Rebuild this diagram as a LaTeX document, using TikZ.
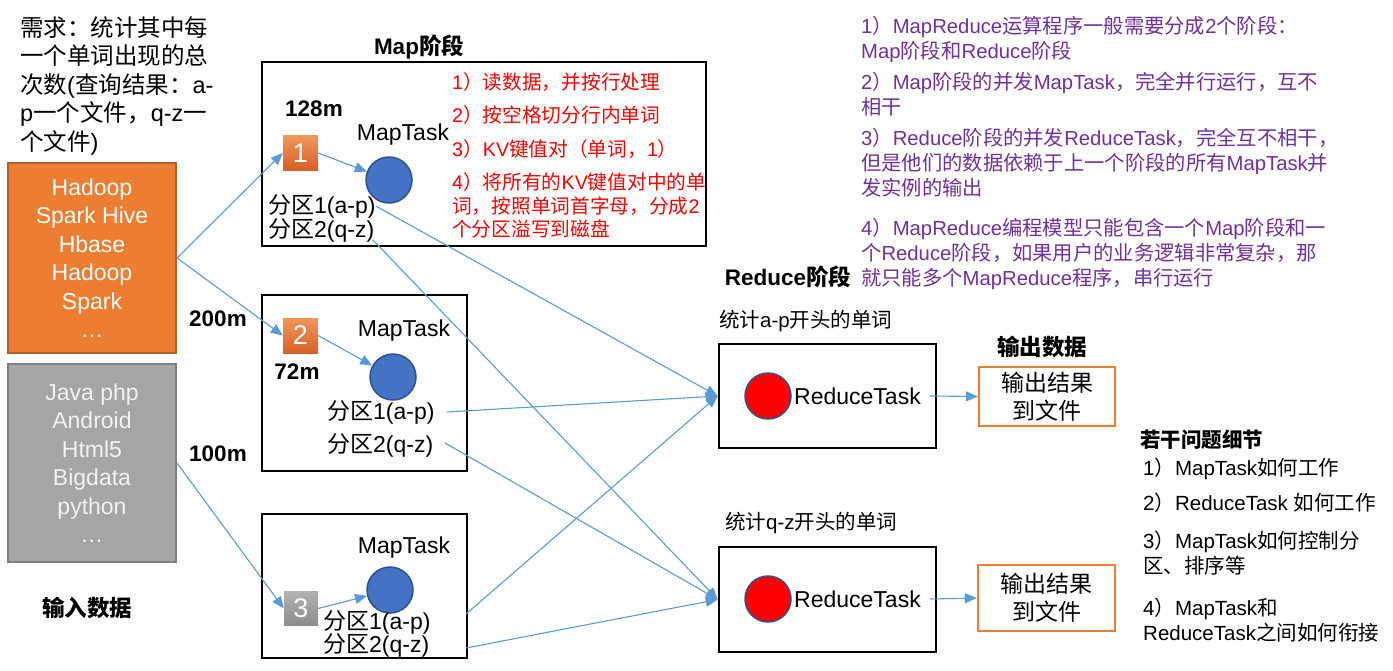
\documentclass[tikz,border=0pt]{standalone}
\usepackage{fontspec}
\setmainfont{Liberation Sans}
\newfontfamily\cjkfont{Noto Sans CJK SC}
\usetikzlibrary{arrows.meta}
\XeTeXinterchartokenstate=1
\makeatletter
\def\setcjkrange#1#2{\count@=#1\relax\loop\XeTeXcharclass\count@=1 \ifnum\count@<#2\advance\count@\@ne\repeat}
\makeatother
\setcjkrange{"3000}{"303F}
\setcjkrange{"4E00}{"9FFF}
\setcjkrange{"FF00}{"FFEF}
\XeTeXinterchartoks 0 1 = {\cjkfont}
\XeTeXinterchartoks 4095 1 = {\cjkfont}
\XeTeXinterchartoks 1 0 = {\rmfamily}
\XeTeXinterchartoks 1 4095 = {\rmfamily}
\definecolor{orangef}{HTML}{ED7D31}
\definecolor{oranged}{HTML}{B0602A}
\definecolor{grayf}{HTML}{A5A5A5}
\definecolor{grayd}{HTML}{7F7F7F}
\definecolor{bluef}{HTML}{4472C4}
\definecolor{blued}{HTML}{2F528F}
\definecolor{connblue}{HTML}{5B9BD5}
\definecolor{purp}{HTML}{7030A0}
\begin{document}
\begin{tikzpicture}[x=1pt,y=-1pt,
  conn/.style={draw=connblue,line width=1.1pt,-{Triangle[length=12pt,width=10pt]}},
  txt/.style={inner sep=0pt,anchor=west},
  para/.style={inner sep=0pt,anchor=north west,align=left},
  blabel/.style={inner sep=0pt,font=\bfseries\fontsize{22.5}{26}\selectfont},
  big/.style={font=\fontsize{23}{28.5}\selectfont},
  mapbox/.style={draw=black,line width=2.2pt,inner sep=0pt},
  redbox/.style={draw=black,line width=2.6pt,inner sep=0pt},
  outbox/.style={draw=orangef,line width=2.2pt,inner sep=0pt,align=center,font=\fontsize{23}{28}\selectfont},
  inbox/.style={draw=#1,line width=2pt,inner sep=0pt,align=center,minimum width=168pt,font=\fontsize{23}{28.5}\selectfont},
  sqbox/.style={minimum size=35pt,inner sep=0pt,text=white,font=\fontsize{27}{28}\selectfont},
  task/.style={circle,draw=blued,line width=1.5pt,minimum size=46pt,inner sep=0pt},
]
\useasboundingbox (0,0) rectangle (1393,670);
% requirement text
\node[para,font=\fontsize{23.5}{28.5}\selectfont] (req) at (20,16.3) {需求：统计其中每\\一个单词出现的总\\次数(查询结果：a-\\p一个文件，q-z一\\个文件)};
% input data
\node[inbox=oranged,fill=orangef,text=white,minimum height=190pt] (in1) at (92,258) {Hadoop\\Spark Hive\\Hbase\\Hadoop\\Spark\\…};
\node[inbox=grayd,fill=grayf,text=white!95!black,minimum height=198pt] (in2) at (92,463) {Java php\\Android\\Html5\\Bigdata\\python\\…};
\node[blabel] (inlab) at (87,608) {输入数据};
\node[blabel] (s200) at (218,319) {200m};
\node[blabel] (s100) at (218,454) {100m};
% map boxes
\node[blabel] (maplab) at (419,47) {Map阶段};
\node[mapbox,minimum width=444pt,minimum height=184pt] (m1) at (484,154) {};
\node[mapbox,minimum width=205pt,minimum height=176pt] (m2) at (364.5,383) {};
\node[mapbox,minimum width=205pt,minimum height=144pt] (m3) at (364.5,586) {};
\node[blabel] (s128) at (314,109) {128m};
\node[blabel] (s72) at (297,372) {72m};
\node[sqbox,top color=orangef!80!white,bottom color=orangef!85!red!90!black] (sq1) at (300.5,153) {1};
\node[sqbox,top color=orangef!80!white,bottom color=orangef!85!red!90!black] (sq2) at (300.5,335.5) {2};
\node[sqbox,minimum size=34pt,top color=grayf!85!white,bottom color=grayf!85!black] (sq3) at (301,608.5) {3};
\node[inner sep=0pt,big] (mt1) at (403,135) {MapTask};
\node[inner sep=0pt,big] (mt2) at (404,331) {MapTask};
\node[inner sep=0pt,big] (mt3) at (404,548) {MapTask};
\node[task,fill=bluef] (c1) at (389,180) {};
\node[task,fill=bluef] (c2) at (393,377) {};
\node[task,fill=bluef] (c3) at (390,590) {};
\node[txt,big] (p11) at (268,206) {分区1(a-p)};
\node[txt,big] (p12) at (268,230) {分区2(q-z)};
\node[txt,big] (p21) at (327,412) {分区1(a-p)};
\node[txt,big] (p22) at (327,445) {分区2(q-z)};
\node[txt,big] (p31) at (323,622) {分区1(a-p)};
\node[txt,big] (p32) at (323,645) {分区2(q-z)};
\node[para,text=red,font=\fontsize{19.7}{23.5}\selectfont] (steps) at (452,72.3) {1）读数据，并按行处理\\[10pt]2）按空格切分行内单词\\[10pt]3）KV键值对（单词，1）\\[10pt]4）将所有的KV键值对中的单\\词，按照单词首字母，分成2\\个分区溢写到磁盘};
% reduce
\node[blabel] (redlab) at (788,277) {Reduce阶段};
\node[txt,font=\fontsize{20.5}{24}\selectfont] (ap) at (719,321) {统计a-p开头的单词};
\node[txt,font=\fontsize{20.5}{24}\selectfont] (qz) at (725,523) {统计q-z开头的单词};
\node[redbox,minimum width=217pt,minimum height=104pt] (r1) at (827.5,396) {};
\node[redbox,minimum width=217pt,minimum height=105pt] (r2) at (827.5,599.5) {};
\node[task,fill=red] (rc1) at (768,396) {};
\node[task,fill=red] (rc2) at (768,599) {};
\node[txt,big] (rt1) at (794,396) {ReduceTask};
\node[txt,big] (rt2) at (794,599) {ReduceTask};
% output
\node[blabel] (outlab) at (1042,347) {输出数据};
\node[outbox,minimum width=136pt,minimum height=59pt] (o1) at (1047,396.5) {输出结果\\到文件};
\node[outbox,minimum width=137pt,minimum height=66pt] (o2) at (1046.5,598) {输出结果\\到文件};
% notes
\node[para,text=purp,font=\fontsize{20.3}{25}\selectfont] (notes) at (861,16) {1）MapReduce运算程序一般需要分成2个阶段：\\Map阶段和Reduce阶段\\[6pt]2）Map阶段的并发MapTask，完全并行运行，互不\\相干\\[6pt]3）Reduce阶段的并发ReduceTask，完全互不相干，\\但是他们的数据依赖于上一个阶段的所有MapTask并\\发实例的输出\\[15pt]4）MapReduce编程模型只能包含一个Map阶段和一\\个Reduce阶段，如果用户的业务逻辑非常复杂，那\\就只能多个MapReduce程序，串行运行};
\node[txt,font=\bfseries\fontsize{20.5}{25}\selectfont] (qhead) at (1140,440) {若干问题细节};
\node[para,font=\fontsize{20.5}{25}\selectfont] (qs) at (1143,458) {1）MapTask如何工作\\[10pt]2）ReduceTask 如何工作\\[13pt]3）MapTask如何控制分\\区、排序等\\[17pt]4）MapTask和\\ReduceTask之间如何衔接};
% start points of partition connectors
\coordinate (s12) at (373,240);
\coordinate (s21) at (447,412);
\coordinate (s22) at (445,443);
\coordinate (s31) at (466,614);
\coordinate (s32) at (466,648);
% connectors
\draw[conn] (in1.east) -- (sq1.west);
\draw[conn] (in1.east) -- (sq2.west);
\draw[conn] (in2.east) -- (sq3.west);
\draw[conn] (sq1.east) -- (c1);
\draw[conn] (sq2.east) -- (c2);
\draw[conn] (sq3.east) -- (c3);
\draw[conn] (p11.east) -- (r1.west);
\draw[conn] (s12) -- (r2.west);
\draw[conn] (s21) -- (r1.west);
\draw[conn] (s22) -- (r2.west);
\draw[conn] (s31) -- (r1.west);
\draw[conn] (s32) -- (r2.west);
\draw[conn] ([xshift=9pt]rt1.east) -- (o1.west);
\draw[conn] ([xshift=9pt]rt2.east) -- (o2.west);
\end{tikzpicture}
\end{document}
